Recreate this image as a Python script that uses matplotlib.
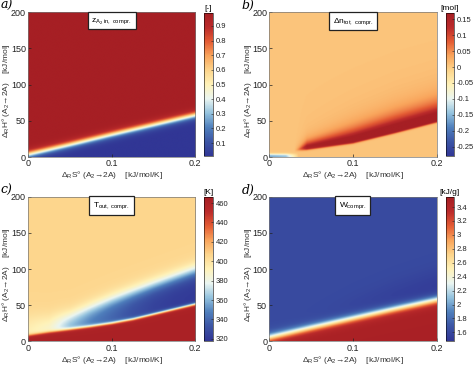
import numpy as np
import matplotlib.pyplot as plt
from matplotlib.colors import LinearSegmentedColormap

plt.rcParams['font.family'] = ['Liberation Sans', 'DejaVu Sans']
plt.rcParams['mathtext.fontset'] = 'custom'
plt.rcParams['mathtext.rm'] = 'Liberation Sans'
plt.rcParams['mathtext.it'] = 'Liberation Sans:italic'
plt.rcParams['axes.unicode_minus'] = False

# parameter study range
ds_range = [0.0, 0.2]      # kJ/mol/K
dh_range = [0.0, 200.0]    # kJ/mol
ds_pts = [0.0, 0.05, 0.1, 0.15, 0.2]

# a) z_A2 in, compr. : position of the 0 -> 1 step (kJ/mol)
za_mid = [3.5, 17, 31, 44.5, 58]
za_width = 3.0
za_lim = [0.01, 0.99]
za_ticks = [0.1, 0.2, 0.3, 0.4, 0.5, 0.6, 0.7, 0.8, 0.9]

# b) delta n_tot, compr. : ridge
dn_base = 0.005
dn_pts = [0.0, 0.03, 0.045, 0.1, 0.15, 0.2]
dn_peak = [0.0, 0.0, 0.15, 0.16, 0.16, 0.16]
dn_edge = [8, 8, 10, 19, 33, 48]
dn_flat = [0, 0, 5, 9, 11, 12]
dn_decay = [4, 4, 6, 10, 12, 13]
dn_halo = [0.0, 0.0, 0.01, 0.02, 0.025, 0.025]
dn_dip_pts = [0.0, 0.02, 0.035]
dn_dip = [-0.17, -0.15, 0.0]
dn_dip_top = 3.5
dn_lim = [-0.28, 0.17]
dn_ticks = [-0.25, -0.2, -0.15, -0.1, -0.05, 0, 0.05, 0.1, 0.15]

# c) T_out, compr. (K)
tc_pts = [0, 0.025, 0.05, 0.075, 0.1, 0.125, 0.15, 0.175, 0.2]
tc_edge = [7.5, 12, 16, 20, 24.5, 30, 37, 44, 51]
tc_hot = 462
tc_base = 406
tc_dip = [14, 22, 48, 60, 68, 76, 82, 85, 86]
tc_upper = [30, 30, 35, 46, 57, 67, 77, 87, 97]
tc_width = [8, 7, 6, 6, 6, 6, 6, 6, 6]
tc_lim = [318, 466]
tc_ticks = [320, 340, 360, 380, 400, 420, 440, 460]

# d) W_compr. (kJ/g)
wd_mid = [4.5, 18, 31, 44, 56.5]
wd_width = 3.5
wd_hot = 3.5
wd_base = 1.62
wd_dip = [0.0, 0.03, 0.06, 0.09, 0.11]
wd_band = [10, 30, 55, 75, 92]
wd_lim = [1.48, 3.54]
wd_ticks = [1.6, 1.8, 2.0, 2.2, 2.4, 2.6, 2.8, 3.0, 3.2, 3.4]

cmap = LinearSegmentedColormap.from_list('rdylbu', [
    (0.0, '#313695'), (0.1, '#3c55a5'), (0.2, '#4f7fbc'), (0.3, '#93c2de'),
    (0.4, '#eaf5f1'), (0.5, '#fff2b8'), (0.6, '#fdd58c'), (0.7, '#f9a55c'),
    (0.8, '#e45c34'), (0.9, '#bb2b2b'), (1.0, '#a61f24')])


def sig(t):
    return 0.5 * (1 + np.tanh(t / 2))


ds = np.linspace(ds_range[0], ds_range[1], 400)
dh = np.linspace(dh_range[0], dh_range[1], 400)
X, Y = np.meshgrid(ds, dh)


def line(pts, vals):
    return np.interp(X, pts, vals)


# fields
za = sig((Y - line(ds_pts, za_mid)) / za_width)
za = za_lim[0] + (za_lim[1] - za_lim[0]) * za

edge = line(dn_pts, dn_edge)
rise = sig((Y - edge) / 0.8)
fall = np.exp(-np.clip(Y - edge - line(dn_pts, dn_flat), 0, None) / line(dn_pts, dn_decay))
dn = (dn_base + line(dn_pts, dn_peak) * rise * fall
      + line(dn_pts, dn_halo) * rise * np.exp(-np.clip(Y - edge, 0, None) / 40))
dn = dn + line(dn_dip_pts, dn_dip) * sig((dn_dip_top - Y) / 0.8)

hot = sig((line(tc_pts, tc_edge) - Y) / 1.3)
cool = tc_base - line(tc_pts, tc_dip) * sig((line(tc_pts, tc_upper) - Y) / line(tc_pts, tc_width))
tc = tc_hot * hot + cool * (1 - hot)

mid = line(ds_pts, wd_mid)
wd = (wd_base - line(ds_pts, wd_dip) * sig((Y - mid - 5) / 3) * sig((line(ds_pts, wd_band) - Y) / 9)
      + (wd_hot - wd_base) * sig((mid - Y) / wd_width))

panels = [
    ('a)', za, za_lim, za_ticks, '[-]', 'z$_{\\mathregular{A_2\\ in,\\ compr.}}$', [0.059, 0.571]),
    ('b)', dn, dn_lim, dn_ticks, '[mol]', 'Δn$_{\\mathregular{tot,\\ compr.}}$', [0.568, 0.571]),
    ('c)', tc, tc_lim, tc_ticks, '[K]', 'T$_{\\mathregular{out,\\ compr.}}$', [0.059, 0.067]),
    ('d)', wd, wd_lim, wd_ticks, '[kJ/g]', 'W$_{\\mathregular{compr.}}$', [0.568, 0.067]),
]

fig = plt.figure(figsize=(4.74, 3.66), dpi=100)
for letter, field, lim, ticks, unit, title, pos in panels:
    ax = fig.add_axes([pos[0], pos[1], 0.353, 0.396])
    im = ax.imshow(field, origin='lower', extent=[ds_range[0], ds_range[1], dh_range[0], dh_range[1]],
                   aspect='auto', cmap=cmap, vmin=lim[0], vmax=lim[1], interpolation='bilinear')
    ax.set_xticks([0, 0.1, 0.2])
    ax.set_xticklabels(['0', '0.1', '0.2'])
    ax.set_yticks([0, 50, 100, 150, 200])
    ax.tick_params(direction='in', length=2, width=0.5, labelsize=6.5, pad=1.5, colors='#222222')
    for s in ax.spines.values():
        s.set_linewidth(0.5)
        s.set_color('#777777')
    ax.set_xlabel('Δ$_\\mathregular{R}$S° (A$_\\mathregular{2}$→2A)    [kJ/mol/K]', fontsize=6, labelpad=1,
                  color='#333333')
    ax.set_ylabel('Δ$_\\mathregular{R}$H° (A$_\\mathregular{2}$→2A)    [kJ/mol]', fontsize=6,
                  color='#333333')
    ax.yaxis.set_label_coords(-0.094, 0.46)
    ax.text(0.5, 0.975, title, transform=ax.transAxes, ha='center', va='top', fontsize=6,
            bbox=dict(boxstyle='square,pad=0.45', fc='white', ec='#222222', lw=0.9))
    fig.text(pos[0] - 0.058, pos[1] + 0.413, letter, fontsize=9, style='italic', ha='left', va='center',
             family='DejaVu Serif')

    cax = fig.add_axes([pos[0] + 0.372, pos[1] + 0.002, 0.018, 0.392])
    cb = fig.colorbar(im, cax=cax, ticks=ticks)
    cb.ax.set_yticklabels(['%g' % t for t in ticks])
    cb.ax.tick_params(direction='in', length=1.5, width=0.4, labelsize=5.5, pad=2, colors='#222222')
    cb.outline.set_linewidth(0.4)
    cax.set_title(unit, fontsize=6, pad=2)

fig.savefig('out.png', dpi=100)
